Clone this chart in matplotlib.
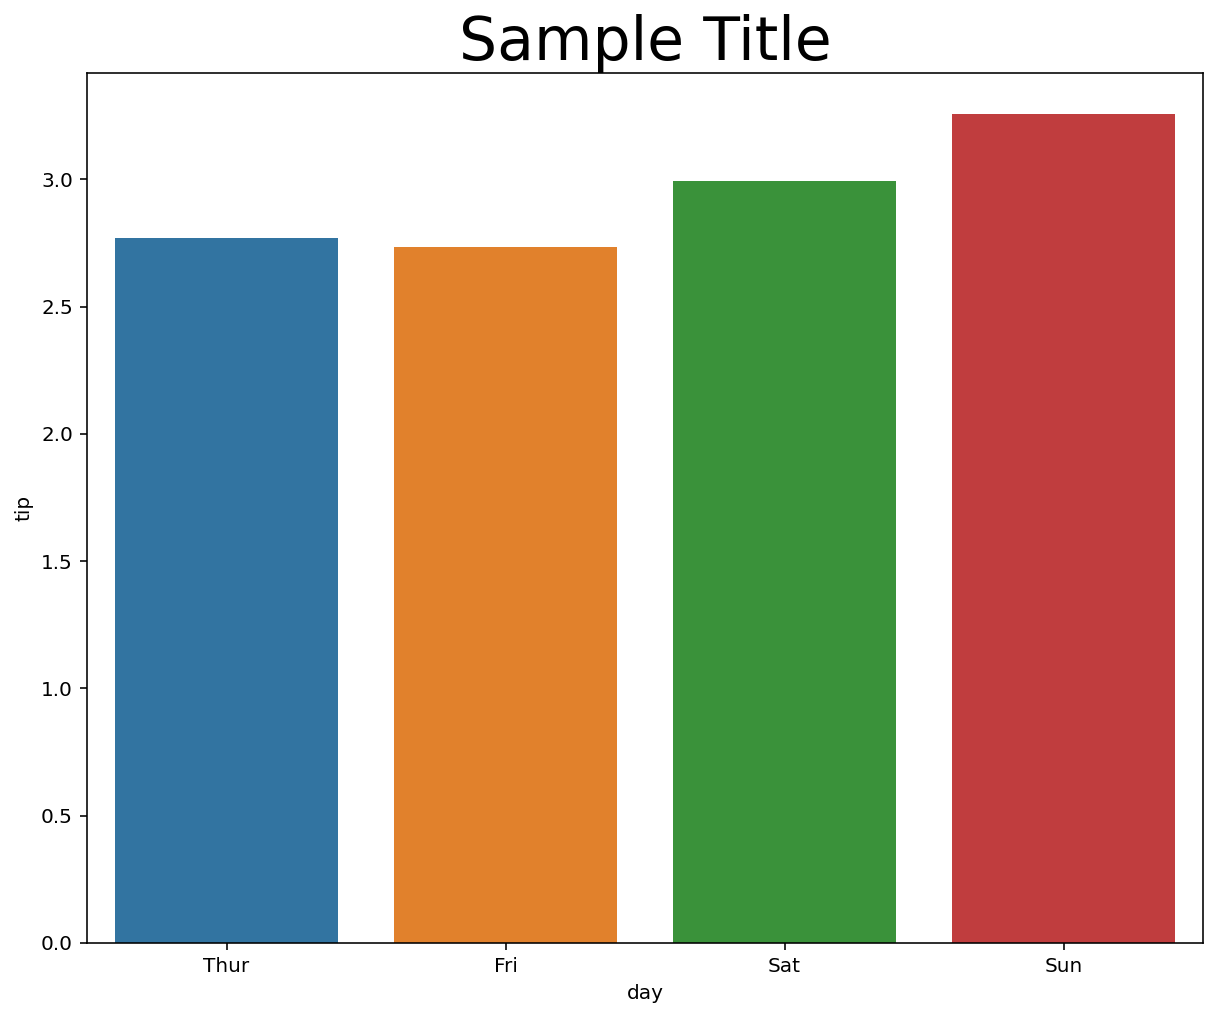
import matplotlib
matplotlib.use("Agg")
import matplotlib.pyplot as plt

days = ["Thur", "Fri", "Sat", "Sun"]
mean_tip = [2.771, 2.734, 2.993, 3.255]
bar_colors = ["#3274a1", "#e1812c", "#3a923a", "#c03d3e"]

fig = plt.figure(figsize=(1217 / 144, 1017 / 144), dpi=144)
ax = fig.add_axes([87 / 1217, 1 - 943 / 1017, (1203 - 87) / 1217, (943 - 73) / 1017])

ax.bar(range(len(days)), mean_tip, width=0.8, color=bar_colors)
ax.set_xlim(-0.5, len(days) - 0.5)
ax.set_ylim(0, max(mean_tip) * 1.05)
ax.set_xticks(range(len(days)))
ax.set_xticklabels(days)
ax.set_xlabel("day")
ax.set_ylabel("tip")
ax.set_title("Sample Title", fontsize=30)

fig.savefig("out.png", dpi=144)
